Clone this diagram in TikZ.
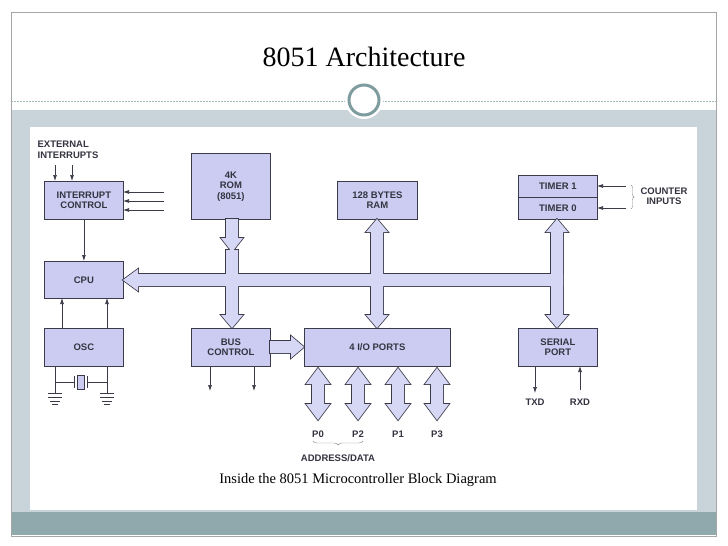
\documentclass[tikz,border=0pt]{standalone}
\usepackage{fontspec}
\setmainfont{Liberation Serif}
\newfontfamily\lbl{Liberation Sans}
\usetikzlibrary{decorations.pathreplacing,arrows.meta}
\definecolor{boxfill}{HTML}{CCCCF2}
\definecolor{boxline}{HTML}{3A3A48}
\definecolor{band}{HTML}{C9D4DA}
\definecolor{bandd}{HTML}{8FA9AC}
\definecolor{ring}{HTML}{7E9C9E}
\begin{document}
\begin{tikzpicture}[x=1pt,y=-1pt,
  blk/.style={draw=boxline,fill=boxfill,line width=0.8pt,font=\lbl\bfseries\fontsize{9.5}{10.5}\selectfont,
    align=center,inner sep=0pt,anchor=north west,text=boxline!90!black},
  lab/.style={font=\lbl\bfseries\fontsize{9.5}{10.5}\selectfont,align=center,text=boxline!90!black},
  wire/.style={draw=boxline,line width=0.7pt},
  arr/.style={wire,-{Latex[length=6pt,width=4pt]}},
  fatout/.style={draw=boxline,line width=1.6pt},
  fatin/.style={fill=boxfill!80!white}]
\useasboundingbox (0,0) rectangle (728,546);
% slide background
\fill[white] (0,0) rectangle (728,546);
\draw[gray!70,line width=0.6pt] (11,12) rectangle (716,536);
\fill[band] (12,110) rectangle (716,512);
\fill[bandd] (12,512) rectangle (716,535);
\fill[white] (30,127) rectangle (697,510);
\draw[ring!70,densely dotted,line width=0.5pt] (12,101) -- (345,101) (383,101) -- (716,101);
\fill[white] (364,100) circle (19);
\draw[ring,line width=3pt] (364,100) circle (15);
\node (title) at (364,57) {\fontsize{28}{32}\selectfont 8051 Architecture};
% blocks
\node[blk,minimum width=79pt,minimum height=38pt] (ic) at (44,181) {INTERRUPT\\CONTROL};
\node[blk,minimum width=79pt,minimum height=37pt] (cpu) at (44,261) {CPU};
\node[blk,minimum width=79pt,minimum height=38pt] (osc) at (44,328) {OSC};
\node[blk,minimum width=79pt,minimum height=66pt] (rom) at (191,153) {4K\\ROM\\(8051)};
\node[blk,minimum width=79pt,minimum height=38pt] (bus) at (191,328) {BUS\\CONTROL};
\node[blk,minimum width=80pt,minimum height=38pt] (ram) at (337,181) {128 BYTES\\RAM};
\node[blk,minimum width=146pt,minimum height=38pt] (io) at (304,328) {4 I/O PORTS};
\node[blk,minimum width=79pt,minimum height=22pt] (t1) at (518,175) {TIMER 1};
\node[blk,minimum width=79pt,minimum height=22pt] (t0) at (518,197) {TIMER 0};
\node[blk,minimum width=79pt,minimum height=38pt] (sp) at (518,328) {SERIAL\\PORT};
% fat bus arrows: outline pass then fill pass
\foreach \s in {fatout,fatin}{
  \path[\s] (123,280) -- (138,269) -- (138,274) -- (563,274) -- (563,286) -- (138,286) -- (138,291) -- cycle;
  \path[\s] (226,219) -- (238,219) -- (238,238) -- (243,238) -- (232,252) -- (221,238) -- (226,238) -- cycle;
  \path[\s] (226,250) -- (238,250) -- (238,315) -- (243,315) -- (232,328) -- (221,315) -- (226,315) -- cycle;
  \foreach \x in {377,557}
    \path[\s] (\x,219) -- (\x+11,232) -- (\x+6,232) -- (\x+6,315) -- (\x+11,315) -- (\x,328)
      -- (\x-11,315) -- (\x-6,315) -- (\x-6,232) -- (\x-11,232) -- cycle;
  \path[\s] (270,341) -- (291,341) -- (291,336) -- (304,347) -- (291,358) -- (291,353) -- (270,353) -- cycle;
  \foreach \x in {318,358,398,437}
    \path[\s] (\x,368) -- (\x+12,384) -- (\x+6,384) -- (\x+6,404) -- (\x+12,404) -- (\x,420)
      -- (\x-12,404) -- (\x-6,404) -- (\x-6,384) -- (\x-12,384) -- cycle;
}
% external interrupts
\node[lab,align=left] (ext) at (68,150) {EXTERNAL\\INTERRUPTS};
\foreach \x in {55,72} \draw[arr] (\x,165) -- (\x,181);
\foreach \y in {192,201,210} \draw[arr] (164,\y) -- (123,\y);
\draw[arr] (ic.south) -- (cpu.north);
\foreach \x in {62,107} \draw[arr] (\x,328) -- (\x,298);
% oscillator crystal and grounds
\foreach \x in {55,107}{
  \draw[wire] (\x,366) -- (\x,393);
  \draw[wire] (\x-7,393) -- (\x+7,393) (\x-7,397) -- (\x+7,397) (\x-5,401) -- (\x+5,401) (\x-3,404) -- (\x+3,404);
}
\draw[wire] (55,382) -- (74,382) (87,382) -- (107,382);
\draw[wire] (74,376) -- (74,388) (87,376) -- (87,388);
\draw[wire,fill=boxfill] (77,375) rectangle (84,389);
% bus control outputs
\foreach \x in {210,254} \draw[arr] (\x,366) -- (\x,391);
% ports
\foreach \x/\t in {318/P0,358/P2,398/P1,437/P3} \node[lab] (p\t) at (\x,434) {\t};
\draw[boxline!60,decorate,decoration={brace,mirror,amplitude=4pt}] (313,441) -- (363,441);
\node[lab] (ad) at (338,458) {ADDRESS/DATA};
% serial
\draw[arr] (535,366) -- (535,393);
\draw[arr] (580,390) -- (580,366);
\node[lab] (txd) at (535,402) {TXD};
\node[lab] (rxd) at (580,402) {RXD};
% counter inputs
\draw[arr] (626,186) -- (597,186);
\draw[arr] (626,208) -- (597,208);
\draw[boxline!60,decorate,decoration={brace,amplitude=3pt}] (631,185) -- (631,209);
\node[lab] (ci) at (664,196) {COUNTER\\INPUTS};
% caption
\node (cap) at (358,480) {\fontsize{14.5}{16}\selectfont Inside the 8051 Microcontroller Block Diagram};
\end{tikzpicture}
\end{document}
